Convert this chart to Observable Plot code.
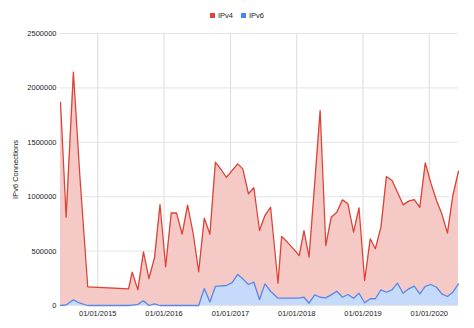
<!DOCTYPE html>
<html><head><meta charset="utf-8">
<script src="https://cdn.jsdelivr.net/npm/d3@7"></script>
<script src="https://cdn.jsdelivr.net/npm/@observablehq/plot@0.6"></script>
<style>
body{margin:0;background:#fff;font-family:"Liberation Sans",Arial,sans-serif;}
#legend{height:24px;display:flex;justify-content:center;align-items:center;gap:8px;font-size:7.5px;color:#222;padding-top:6px;box-sizing:border-box}
.sw{display:inline-block;width:5px;height:5px;margin-right:3px;vertical-align:middle}
</style></head><body>
<div id="legend"></div>
<div id="chart"></div>
<script>
const dates = [
"2014-06-10","2014-07-11","2014-08-20","2014-09-25","2014-11-07",
"2015-06-20","2015-07-10","2015-08-10","2015-09-10","2015-10-10","2015-11-10","2015-12-10",
"2016-01-10","2016-02-10","2016-03-10","2016-04-10","2016-05-10","2016-06-10","2016-07-10","2016-08-10","2016-09-10","2016-10-10","2016-11-10","2016-12-10",
"2017-01-10","2017-02-10","2017-03-10","2017-04-10","2017-05-10","2017-06-10","2017-07-10","2017-08-10","2017-09-20","2017-10-10","2017-11-10","2017-12-10",
"2018-01-15","2018-02-10","2018-03-10","2018-04-10","2018-05-10","2018-06-10","2018-07-10","2018-08-10","2018-09-10","2018-10-10","2018-11-10","2018-12-10",
"2019-01-10","2019-02-10","2019-03-10","2019-04-10","2019-05-10","2019-06-10","2019-07-10","2019-08-10","2019-09-10","2019-10-10","2019-11-10","2019-12-10",
"2020-01-10","2020-02-10","2020-03-10","2020-04-10","2020-05-10","2020-06-10"];
const ipv4 = [
1866000,811000,2144000,1180000,172000,
153000,306000,144000,493000,248000,440000,928000,
356000,850000,850000,655000,922000,659000,310000,802000,655000,1317000,1250000,1178000,
1240000,1302000,1256000,1027000,1082000,689000,827000,903000,205000,634000,583000,527000,
460000,689000,444000,1120000,1792000,551000,811000,857000,971000,935000,674000,898000,
230000,613000,521000,720000,1186000,1149000,1041000,925000,959000,974000,903000,1311000,
1124000,965000,843000,665000,1011000,1234000];
const ipv6 = [
0,5000,52000,21000,0,
0,4000,10000,43000,0,15000,0,
0,0,0,0,0,0,0,156000,33000,175000,180000,184000,
210000,285000,245000,193000,214000,55000,199000,131000,67000,67000,67000,67000,
67000,76000,21000,98000,76000,70000,98000,131000,76000,101000,67000,113000,
25000,62000,62000,144000,122000,144000,205000,113000,153000,178000,107000,175000,
193000,168000,107000,83000,122000,199000];
const seriesNames = ["IPv4","IPv6"];
const seriesColors = ["#db4437","#4285f4"];
const yTicks = [0,500000,1000000,1500000,2000000,2500000];
const xTicks = ["2015-01-01","2016-01-01","2017-01-01","2018-01-01","2019-01-01","2020-01-01"];
const yLabel = "IPv6 Connections";

const rows = dates.map((d,i)=>({date:new Date(d+"T00:00:00Z"), ipv4:ipv4[i], ipv6:ipv6[i]}));

const legend = document.getElementById("legend");
seriesNames.forEach((n,i)=>{
  const s = document.createElement("span");
  s.innerHTML = `<span class="sw" style="background:${seriesColors[i]}"></span>${n}`;
  legend.appendChild(s);
});

const chart = Plot.plot({
  width:474, height:304,
  marginLeft:60, marginRight:16, marginTop:9, marginBottom:23,
  style:{fontSize:"7.5px", fontFamily:"'Liberation Sans', Arial, sans-serif", color:"#222", background:"#fff"},
  x:{type:"utc", domain:[rows[0].date, rows[rows.length-1].date], ticks:xTicks.map(d=>new Date(d+"T00:00:00Z")), tickFormat:d3.utcFormat("%m/%d/%Y"), tickSize:0, tickPadding:5, label:null},
  y:{domain:[0,2500000], ticks:yTicks, tickFormat:d=>String(d), tickSize:0, tickPadding:4, label:yLabel, labelAnchor:"center", labelOffset:48, labelArrow:"none"},
  marks:[
    Plot.gridX(xTicks.map(d=>new Date(d+"T00:00:00Z")), {stroke:"#dcdcdc", strokeOpacity:1}),
    Plot.gridY(yTicks, {stroke:"#e4e4e4", strokeOpacity:1}),
    Plot.areaY(rows, {x:"date", y:"ipv4", fill:"#f4c7c3", fillOpacity:0.95}),
    Plot.lineY(rows, {x:"date", y:"ipv4", stroke:seriesColors[0], strokeWidth:1.3}),
    Plot.areaY(rows, {x:"date", y:"ipv6", fill:"#c6dafc", fillOpacity:1}),
    Plot.lineY(rows, {x:"date", y:"ipv6", stroke:"#5a86e6", strokeWidth:1.3})
  ]
});
document.getElementById("chart").appendChild(chart);
</script>
</body></html>
